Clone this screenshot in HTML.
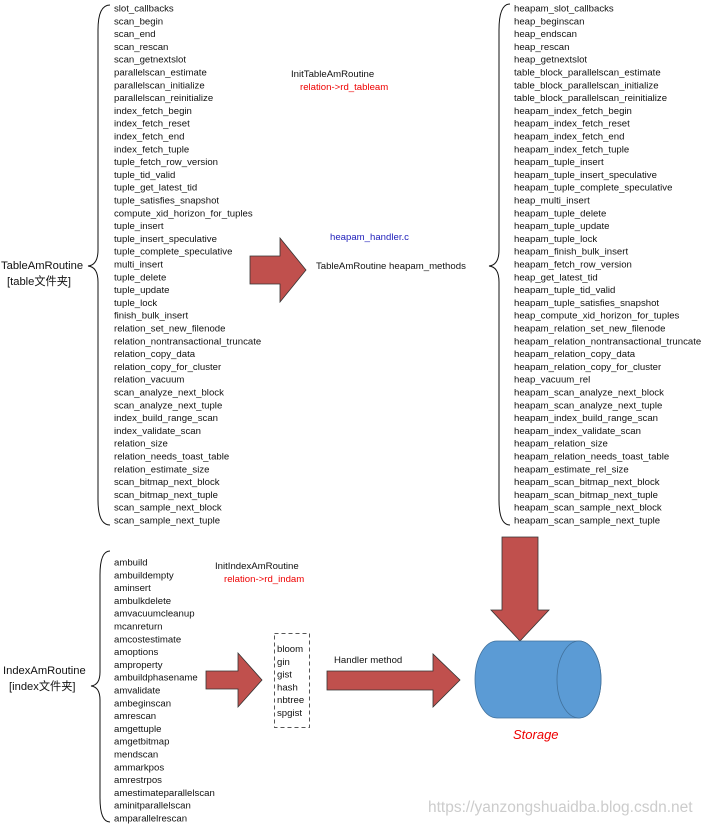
<!DOCTYPE html>
<html><head><meta charset="utf-8"><style>
body{margin:0;background:#fff}
svg{display:block}
text{font-family:"Liberation Sans","Noto Sans CJK SC",sans-serif;font-size:9.6px;fill:#111}
.big{font-size:11.2px}
</style></head><body>
<svg width="712" height="826" viewBox="0 0 712 826" xmlns="http://www.w3.org/2000/svg">
<g fill="none" stroke="#111" stroke-width="1">
<path d="M110,5 Q98,5 98,30 L98,250 Q98,265 88,266 Q98,267 98,282 L98,500 Q98,525 110,525"/>
<path d="M510,4 Q499,4 499,30 L499,250 Q499,265 489,266 Q499,267 499,282 L499,500 Q499,525 510,525"/>
<path d="M110,551 Q100,551 100,575 L100,672 Q100,685 91,686 Q100,687 100,700 L100,798 Q100,822 110,822"/>
</g>
<text class="big" x="1" y="269">TableAmRoutine</text>
<text class="big" x="7" y="285">[table文件夹]</text>
<text class="big" x="3" y="674">IndexAmRoutine</text>
<text class="big" x="9" y="690">[index文件夹]</text>
<g transform="translate(114,11.5)">
<text y="0">slot_callbacks</text><text y="12.8">scan_begin</text><text y="25.6">scan_end</text><text y="38.4">scan_rescan</text><text y="51.2">scan_getnextslot</text><text y="64">parallelscan_estimate</text><text y="76.8">parallelscan_initialize</text><text y="89.6">parallelscan_reinitialize</text><text y="102.4">index_fetch_begin</text><text y="115.2">index_fetch_reset</text><text y="128">index_fetch_end</text><text y="140.8">index_fetch_tuple</text><text y="153.6">tuple_fetch_row_version</text><text y="166.4">tuple_tid_valid</text><text y="179.2">tuple_get_latest_tid</text><text y="192">tuple_satisfies_snapshot</text><text y="204.8">compute_xid_horizon_for_tuples</text><text y="217.6">tuple_insert</text><text y="230.4">tuple_insert_speculative</text><text y="243.2">tuple_complete_speculative</text><text y="256">multi_insert</text><text y="268.8">tuple_delete</text><text y="281.6">tuple_update</text><text y="294.4">tuple_lock</text><text y="307.2">finish_bulk_insert</text><text y="320">relation_set_new_filenode</text><text y="332.8">relation_nontransactional_truncate</text><text y="345.6">relation_copy_data</text><text y="358.4">relation_copy_for_cluster</text><text y="371.2">relation_vacuum</text><text y="384">scan_analyze_next_block</text><text y="396.8">scan_analyze_next_tuple</text><text y="409.6">index_build_range_scan</text><text y="422.4">index_validate_scan</text><text y="435.2">relation_size</text><text y="448">relation_needs_toast_table</text><text y="460.8">relation_estimate_size</text><text y="473.6">scan_bitmap_next_block</text><text y="486.4">scan_bitmap_next_tuple</text><text y="499.2">scan_sample_next_block</text><text y="512">scan_sample_next_tuple</text>
</g>
<g transform="translate(514,11.5)">
<text y="0">heapam_slot_callbacks</text><text y="12.8">heap_beginscan</text><text y="25.6">heap_endscan</text><text y="38.4">heap_rescan</text><text y="51.2">heap_getnextslot</text><text y="64">table_block_parallelscan_estimate</text><text y="76.8">table_block_parallelscan_initialize</text><text y="89.6">table_block_parallelscan_reinitialize</text><text y="102.4">heapam_index_fetch_begin</text><text y="115.2">heapam_index_fetch_reset</text><text y="128">heapam_index_fetch_end</text><text y="140.8">heapam_index_fetch_tuple</text><text y="153.6">heapam_tuple_insert</text><text y="166.4">heapam_tuple_insert_speculative</text><text y="179.2">heapam_tuple_complete_speculative</text><text y="192">heap_multi_insert</text><text y="204.8">heapam_tuple_delete</text><text y="217.6">heapam_tuple_update</text><text y="230.4">heapam_tuple_lock</text><text y="243.2">heapam_finish_bulk_insert</text><text y="256">heapam_fetch_row_version</text><text y="268.8">heap_get_latest_tid</text><text y="281.6">heapam_tuple_tid_valid</text><text y="294.4">heapam_tuple_satisfies_snapshot</text><text y="307.2">heap_compute_xid_horizon_for_tuples</text><text y="320">heapam_relation_set_new_filenode</text><text y="332.8">heapam_relation_nontransactional_truncate</text><text y="345.6">heapam_relation_copy_data</text><text y="358.4">heapam_relation_copy_for_cluster</text><text y="371.2">heap_vacuum_rel</text><text y="384">heapam_scan_analyze_next_block</text><text y="396.8">heapam_scan_analyze_next_tuple</text><text y="409.6">heapam_index_build_range_scan</text><text y="422.4">heapam_index_validate_scan</text><text y="435.2">heapam_relation_size</text><text y="448">heapam_relation_needs_toast_table</text><text y="460.8">heapam_estimate_rel_size</text><text y="473.6">heapam_scan_bitmap_next_block</text><text y="486.4">heapam_scan_bitmap_next_tuple</text><text y="499.2">heapam_scan_sample_next_block</text><text y="512">heapam_scan_sample_next_tuple</text>
</g>
<g transform="translate(114,565.5)">
<text y="0">ambuild</text><text y="12.8">ambuildempty</text><text y="25.6">aminsert</text><text y="38.4">ambulkdelete</text><text y="51.2">amvacuumcleanup</text><text y="64">mcanreturn</text><text y="76.8">amcostestimate</text><text y="89.6">amoptions</text><text y="102.4">amproperty</text><text y="115.2">ambuildphasename</text><text y="128">amvalidate</text><text y="140.8">ambeginscan</text><text y="153.6">amrescan</text><text y="166.4">amgettuple</text><text y="179.2">amgetbitmap</text><text y="192">mendscan</text><text y="204.8">ammarkpos</text><text y="217.6">amrestrpos</text><text y="230.4">amestimateparallelscan</text><text y="243.2">aminitparallelscan</text><text y="256">amparallelrescan</text>
</g>
<text x="291" y="77">InitTableAmRoutine</text>
<text x="300" y="90" style="fill:#e00">relation-&gt;rd_tableam</text>
<text x="330" y="240" style="fill:#22b">heapam_handler.c</text>
<text x="316" y="269">TableAmRoutine heapam_methods</text>
<text x="215" y="569">InitIndexAmRoutine</text>
<text x="224" y="582" style="fill:#e00">relation-&gt;rd_indam</text>
<g fill="#c0504d" stroke="#333" stroke-width="0.8">
<polygon points="250,256 280,256 280,238 306,270 280,302 280,284 250,284"/>
<polygon points="206,671 238,671 238,653 262,680 238,707 238,689 206,689"/>
<polygon points="327,671 433,671 433,654 460,680 433,707 433,690 327,690"/>
<polygon points="502,537 538,537 538,610 549,610 520,641 491,610 502,610"/>
</g>
<rect x="274.5" y="633.5" width="35" height="94" fill="none" stroke="#555" stroke-dasharray="4,3"/>
<g transform="translate(277,652)"><text y="0">bloom</text><text y="12.8">gin</text><text y="25.6">gist</text><text y="38.4">hash</text><text y="51.2">nbtree</text><text y="64">spgist</text></g>
<text x="334" y="663">Handler method</text>
<path d="M497,641 L579,641 A22,38.5 0 0 1 579,718 L497,718 A22,38.5 0 0 1 497,641 Z" fill="#5b9bd5" stroke="#41719c" stroke-width="0.8"/>
<ellipse cx="579" cy="679.5" rx="22" ry="38.5" fill="#5b9bd5" stroke="#41719c" stroke-width="0.8"/>
<text x="513" y="739" style="fill:#e00;font-size:13px;font-style:italic">Storage</text>
<text x="428" y="812" style="fill:#ccc;font-size:15.5px">https://yanzongshuaidba.blog.csdn.net</text>
</svg>
</body></html>
